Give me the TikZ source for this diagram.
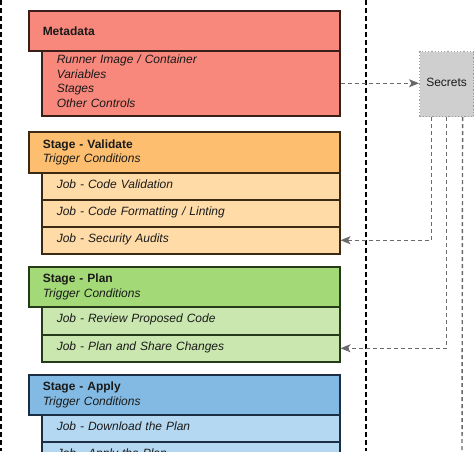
\documentclass[tikz,border=0pt]{standalone}
\usepackage{fontspec}
\setmainfont{Liberation Sans}
\usetikzlibrary{arrows.meta}
\definecolor{metafill}{HTML}{F8877C}
\definecolor{metaedge}{HTML}{3A1E1A}
\definecolor{valhead}{HTML}{FDBF6F}
\definecolor{valjob}{HTML}{FFDBA8}
\definecolor{valedge}{HTML}{3A2A14}
\definecolor{planhead}{HTML}{A3D977}
\definecolor{planjob}{HTML}{C9E7AE}
\definecolor{planedge}{HTML}{253A18}
\definecolor{apphead}{HTML}{83BAE3}
\definecolor{appjob}{HTML}{B4D8F2}
\definecolor{appedge}{HTML}{1C2E44}
\definecolor{secfill}{HTML}{CFCFCF}
\definecolor{secedge}{HTML}{9A9A9A}
\definecolor{linkgray}{HTML}{6A6A6A}
\definecolor{txt}{HTML}{1A1A1A}
\newcommand{\fsz}{\fontsize{12}{14.5}\selectfont}
\begin{document}
\begin{tikzpicture}[x=1pt,y=-1pt,
  hdr/.style={draw=#1,line width=1.5pt,anchor=north west,minimum width=311pt,
    minimum height=41pt,text width=283pt,inner xsep=14pt,inner ysep=0pt,
    align=left,font=\fsz,text=txt},
  jobbox/.style={draw=#1,line width=1.5pt,anchor=north west,minimum width=298pt,
    minimum height=27pt,text width=268pt,inner xsep=15pt,inner ysep=0pt,
    align=left,font=\fsz\itshape,text=txt},
  onejob/.style={jobbox=#1,text height=9pt,text depth=5pt},
  link/.style={draw=linkgray,dash pattern=on 4pt off 3pt,line width=1.4pt},
  tip/.style={-{Stealth[length=10pt,width=8pt,inset=2.5pt]}},
  sepline/.style={draw=black,dash pattern=on 5pt off 3pt,line width=1.5pt}]
\useasboundingbox (0,0) rectangle (474,451);
\clip (0,0) rectangle (474,451);
% separators
\coordinate (ltop) at (1,0);
\coordinate (lbot) at (1,451);
\coordinate (mtop) at (366,0);
\coordinate (mbot) at (366,451);
\draw[sepline] (ltop) -- (lbot);
\draw[sepline] (mtop) -- (mbot);
% metadata
\node[jobbox=metaedge,fill=metafill,minimum height=65pt,text depth=48pt] (metasub) at (41,50)
  {Runner Image / Container\\Variables\\Stages\\Other Controls};
\node[hdr=metaedge,fill=metafill,minimum height=40pt] (meta) at (28,10) {\textbf{Metadata}};
% validate
\node[onejob=valedge,fill=valjob] (val1) at (41,172) {Job - Code Validation};
\node[onejob=valedge,fill=valjob] (val2) at (41,199) {Job - Code Formatting / Linting};
\node[onejob=valedge,fill=valjob] (val3) at (41,226) {Job - Security Audits};
\node[hdr=valedge,fill=valhead] (val) at (28,131) {\textbf{Stage - Validate}\\\textit{Trigger Conditions}};
% plan
\node[onejob=planedge,fill=planjob,minimum height=28pt] (plan1) at (41,306) {Job - Review Proposed Code};
\node[onejob=planedge,fill=planjob] (plan2) at (41,334) {Job - Plan and Share Changes};
\node[hdr=planedge,fill=planhead,minimum height=40pt] (plan) at (28,266) {\textbf{Stage - Plan}\\\textit{Trigger Conditions}};
% apply
\node[onejob=appedge,fill=appjob] (app1) at (41,414) {Job - Download the Plan};
\node[onejob=appedge,fill=appjob] (app2) at (41,441) {Job - Apply the Plan};
\node[hdr=appedge,fill=apphead,minimum height=40pt] (app) at (28,374) {\textbf{Stage - Apply}\\\textit{Trigger Conditions}};
% secrets
\node[draw=secedge,dotted,line width=1.2pt,fill=secfill,minimum width=54pt,minimum height=65pt,
  anchor=north west,inner sep=0pt,font=\fsz,text=txt,text height=9pt,text depth=4pt] (sec) at (419,51) {Secrets};
% connectors
\draw[link,tip] (metasub.east) -- (sec.west |- metasub.east);
\draw[link,tip] ([xshift=-15pt]sec.south) |- (val3.east);
\draw[link,tip] (sec.south) |- (plan2.east);
\coordinate (secend) at (462,460);
\draw[link] ([xshift=16pt]sec.south) -- (secend);
\end{tikzpicture}
\end{document}
